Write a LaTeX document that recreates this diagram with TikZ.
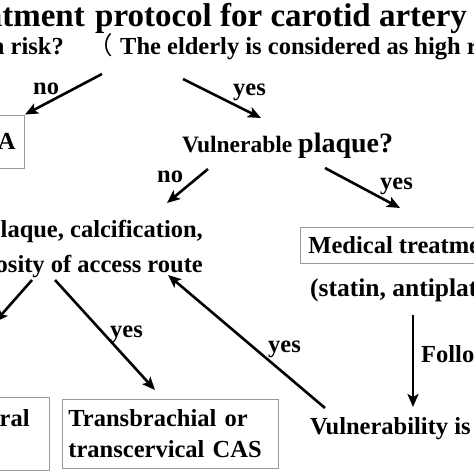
\documentclass[tikz,border=0pt]{standalone}
\usepackage{fontspec}
\setmainfont{Liberation Serif}
\newfontfamily\cjkfont{Noto Sans CJK SC}
\usetikzlibrary{arrows.meta,positioning}

\begin{document}
\begin{tikzpicture}[x=1pt,y=-1pt,
    txt/.style={inner sep=0pt,font=\bfseries\fontsize{24.5}{31}\selectfont},
    big/.style={inner sep=0pt,font=\bfseries\fontsize{33}{36}\selectfont},
    stepbox/.style={txt,draw=gray!80,line width=0.9pt},
    arr/.style={-{Stealth[length=13pt,width=11pt,inset=3pt]},line width=2.6pt}]
    \useasboundingbox (0,0) rectangle (474,474);
    \clip (0,0) rectangle (474,474);

    % Title
    \node[big,anchor=base east] (tl) at (85,26.7) {Treatment};
    \node[big,anchor=base west] (tr) at (95,26.7) {protocol for carotid artery stenosis};

    % First question
    \node[txt,anchor=base east] (q1) at (64,54.5) {High risk?};
    \node[txt,anchor=base east] (par) at (113,54.5) {\cjkfont\mdseries （};
    \node[txt,anchor=base west] (q1b) at (120,54.5) {The elderly is considered as high risk)};

    \node[stepbox,anchor=east,minimum height=53pt,inner xsep=9pt] (cea) at (25,141.5) {CEA};

    % Second question
    \node[txt,anchor=base west] (q2) at (182,152) {\fontsize{23.5}{28}\selectfont Vulnerable \fontsize{28}{32}\selectfont plaque?};

    \node[stepbox,anchor=west,minimum height=36pt,inner xsep=8pt] (med) at (300,245) {Medical treatment};
    \node[txt,anchor=base west,font=\bfseries\fontsize{25.5}{31}\selectfont] (drug) at (310,296) {(statin, antiplatelet)};

    \node[txt,align=right,anchor=east,font=\bfseries\fontsize{24.5}{35}\selectfont] (route) at (203,248.7) {Soft plaque, calcification,\\tortuosity of access route};

    % Bottom row
    \node[stepbox,anchor=east,minimum height=73pt,align=left,inner xsep=20pt] (tf) at (50,433.5) {Transfemoral\\CAS};
    \node[stepbox,anchor=north west,minimum height=69pt,align=left,text width=204pt,inner xsep=6pt] (tbc) at (62,399) {Transbrachial or\\transcervical CAS};
    \node[txt,anchor=base west] (vul) at (310,434) {Vulnerability is increased};
    \node[txt,anchor=base west] (fol) at (421,362) {Follow up};

    % Labels
    \node[txt,anchor=base west] (no1) at (33,94) {no};
    \node[txt,anchor=base west] (yes1) at (233,95) {yes};
    \node[txt,anchor=base west] (no2) at (157,182) {no};
    \node[txt,anchor=base west] (yes2) at (380,189) {yes};
    \node[txt,anchor=base west] (yes3) at (110,337) {yes};
    \node[txt,anchor=base west] (yes4) at (268,352) {yes};

    % Arrows
    \coordinate (riskno) at (102,74);
    \coordinate (riskyes) at (183,79);
    \coordinate (q2top) at (261,118);
    \coordinate (plno) at (208,169);
    \coordinate (plnoend) at (167,203);
    \coordinate (plyes) at (325,168);
    \coordinate (plyesend) at (400,208);
    \coordinate (rtno) at (32,280);
    \coordinate (rtnoend) at (-5,322);
    \coordinate (rtyes) at (55,280);
    \coordinate (rtyesend) at (155,390);
    \coordinate (vulstart) at (325,408);
    \coordinate (vulend) at (168,275);
    \coordinate (folstart) at (413,315);
    \coordinate (folend) at (413,407);

    \draw[arr] (riskno) -- (cea.north east);
    \draw[arr] (riskyes) -- (q2top);
    \draw[arr] (plno) -- (plnoend);
    \draw[arr] (plyes) -- (plyesend);
    \draw[arr] (rtno) -- (rtnoend);
    \draw[arr] (rtyes) -- (rtyesend);
    \draw[arr] (vulstart) -- (vulend);
    \draw[arr] (folstart) -- (folend);
\end{tikzpicture}
\end{document}
